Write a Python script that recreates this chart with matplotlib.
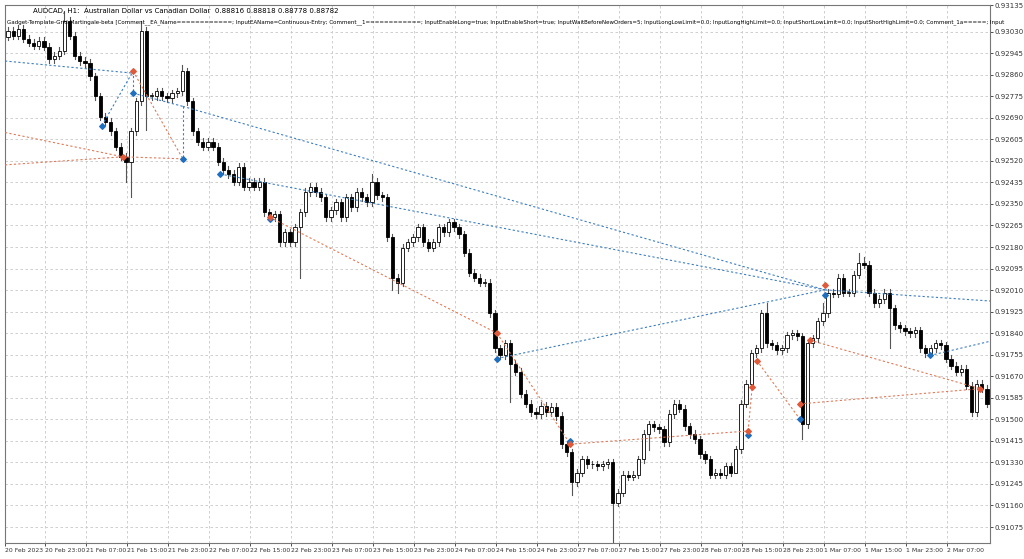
import matplotlib
matplotlib.use("Agg")
import matplotlib.pyplot as plt
import numpy as np

closes = [0.93034,0.93014,0.93042,0.93002,0.92986,0.92974,0.92994,0.92970,0.92922,0.92934,
0.92954,0.93073,0.93014,0.92934,0.92914,0.92906,0.92854,0.92775,0.92695,0.92675,
0.92636,0.92576,0.92536,0.92516,0.92636,0.92755,0.93034,0.92775,0.92775,0.92795,
0.92775,0.92767,0.92787,0.92795,0.92874,0.92755,0.92636,0.92596,0.92576,0.92596,
0.92576,0.92516,0.92484,0.92468,0.92437,0.92496,0.92417,0.92437,0.92417,0.92437,
0.92317,0.92297,0.92309,0.92198,0.92238,0.92198,0.92257,0.92317,0.92397,0.92417,
0.92397,0.92377,0.92297,0.92325,0.92357,0.92297,0.92377,0.92337,0.92397,0.92377,
0.92357,0.92437,0.92385,0.92377,0.92218,0.92058,0.92039,0.92178,0.92198,0.92218,
0.92257,0.92198,0.92178,0.92198,0.92257,0.92238,0.92277,0.92257,0.92230,0.92158,
0.92078,0.92058,0.92039,0.92039,0.91919,0.91780,0.91752,0.91800,0.91720,0.91688,
0.91601,0.91561,0.91529,0.91521,0.91553,0.91529,0.91549,0.91513,0.91402,0.91370,
0.91251,0.91290,0.91342,0.91322,0.91322,0.91314,0.91322,0.91330,0.91171,0.91211,
0.91282,0.91274,0.91282,0.91342,0.91442,0.91481,0.91469,0.91461,0.91410,0.91521,
0.91561,0.91541,0.91473,0.91442,0.91422,0.91362,0.91342,0.91282,0.91290,0.91282,
0.91314,0.91290,0.91382,0.91561,0.91641,0.91760,0.91780,0.91919,0.91800,0.91792,
0.91772,0.91780,0.91832,0.91840,0.91828,0.91481,0.91800,0.91820,0.91887,0.91919,
0.91999,0.91995,0.92058,0.91999,0.91999,0.92070,0.92118,0.92110,0.91999,0.91959,
0.91975,0.91999,0.91939,0.91871,0.91859,0.91848,0.91840,0.91852,0.91780,0.91760,
0.91780,0.91800,0.91792,0.91740,0.91712,0.91688,0.91700,0.91633,0.91529,0.91641,
0.91621,0.91561]
first_open = 0.93010
typical_wick = 0.00014
long_highs = {11: 0.93113, 26: 0.93070, 34: 0.92900, 71: 0.92470, 148: 0.91960, 166: 0.92158, 167: 0.92140, 159: 0.91960}
long_lows = {23: 0.92437, 24: 0.92377, 27: 0.92640, 57: 0.92057, 75: 0.92010, 76: 0.92000, 98: 0.91570,
             118: 0.91004, 155: 0.91422, 110: 0.91200, 125: 0.91380, 142: 0.91350, 172: 0.91780}

yticks = [0.93030 - 0.00085 * k for k in range(24)]
xlabels = ["20 Feb 2023","20 Feb 23:00","21 Feb 07:00","21 Feb 15:00","21 Feb 23:00","22 Feb 07:00",
"22 Feb 15:00","22 Feb 23:00","23 Feb 07:00","23 Feb 15:00","23 Feb 23:00","24 Feb 07:00",
"24 Feb 15:00","24 Feb 23:00","27 Feb 07:00","27 Feb 15:00","27 Feb 23:00","28 Feb 07:00",
"28 Feb 15:00","28 Feb 23:00","1 Mar 07:00","1 Mar 15:00","1 Mar 23:00","2 Mar 07:00"]

blue_lines = [((-0.6,0.92914),(24.4,0.92866)), ((18.3,0.92659),(24.4,0.92874)), ((24.4,0.92874),(24.4,0.92787)),
              ((24.4,0.92787),(34.1,0.92735)), ((34.1,0.92735),(34.1,0.92528)),
              ((34.1,0.92735),(159.4,0.92011)), ((41.4,0.92468),(159.4,0.92011)),
              ((95.4,0.91740),(159.4,0.92011)), ((159.4,0.92011),(191.6,0.91967)),
              ((179.9,0.91752),(191.6,0.91808))]
red_lines = [((-0.6,0.92632),(22.4,0.92536)), ((-0.6,0.92504),(22.4,0.92536)), ((22.4,0.92536),(34.1,0.92528)),
             ((24.4,0.92874),(34.1,0.92528)), ((51.1,0.92297),(95.4,0.91840)), ((95.4,0.91840),(109.7,0.91402)),
             ((109.7,0.91402),(144.4,0.91454)), ((144.4,0.91454),(145.2,0.91629)), ((146.1,0.91732),(154.5,0.91501)),
             ((154.5,0.91561),(189.7,0.91621)), ((156.5,0.91812),(189.7,0.91621))]
blue_pts = [(18.3,0.92659),(24.4,0.92787),(34.1,0.92528),(41.4,0.92468),(95.4,0.91740),(144.4,0.91440),
            (154.5,0.91501),(159.4,0.91990),(179.9,0.91752),(51.1,0.92290),(109.7,0.91415)]
red_pts = [(24.4,0.92874),(22.4,0.92536),(51.1,0.92297),(95.4,0.91840),(109.7,0.91402),(144.4,0.91454),
           (145.2,0.91629),(146.1,0.91732),(154.5,0.91561),(156.5,0.91812),(159.4,0.92030),(189.7,0.91621)]

fig = plt.figure(figsize=(10.24, 5.59), dpi=100)
ax = fig.add_axes([5/1024, 16/559, 985/1024, 538/559])
n = len(closes)
opens = [first_open] + closes[:-1]
for i in range(n):
    o, c = opens[i], closes[i]
    hi = long_highs.get(i, max(o, c) + typical_wick)
    lo = long_lows.get(i, min(o, c) - typical_wick)
    ax.plot([i, i], [lo, hi], color='#555555', lw=0.8, zorder=2)
    bull = c >= o
    h = abs(c - o) if abs(c - o) > 0.00003 else 0.00003
    ax.add_patch(plt.Rectangle((i - 0.32, min(o, c)), 0.64, h, facecolor='white' if bull else 'black',
                               edgecolor='black', lw=0.6, zorder=3))
for (a, b) in blue_lines:
    ax.plot([a[0], b[0]], [a[1], b[1]], color='#3f7fbf', lw=0.8, ls=(0, (2, 2)), zorder=4)
for (a, b) in red_lines:
    ax.plot([a[0], b[0]], [a[1], b[1]], color='#e07a5a', lw=0.8, ls=(0, (2, 2)), zorder=4)
ax.scatter(*zip(*blue_pts), s=8, color='#1f6fbf', marker='D', zorder=5)
ax.scatter(*zip(*red_pts), s=8, color='#e05a3a', marker='D', zorder=5)

ax.set_xlim(-0.6, 191.6)
ax.set_ylim(0.91012, 0.93133)
xt = [-0.6] + [7.2 + 8 * k for k in range(23)]
ax.set_xticks(xt)
ax.set_xticklabels(xlabels, fontsize=4.4, ha='left')
ax.set_yticks(yticks + [0.93135])
ax.set_yticklabels([f"{v:.5f}" for v in yticks] + ["0.93135"], fontsize=5)
ax.yaxis.tick_right()
ax.tick_params(axis='both', length=2, width=0.6, pad=1.5, colors='#333333')
ax.grid(True, color='#c8c8c8', ls=(0, (3, 3)), lw=0.6)
ax.set_axisbelow(True)
for s in ax.spines.values():
    s.set_color('#777777'); s.set_linewidth(0.8)
fig.text(33/1024, 1 - 11/559, "AUDCAD, H1:  Australian Dollar vs Canadian Dollar  0.88816 0.88818 0.88778 0.88782",
         fontsize=5, va='center', color='black')
fig.text(7/1024, 1 - 22/559, "Gadget-Template-Grid-Martingale-beta [Comment__EA_Name============; InputEAName=Continuous-Entry; "
         "Comment__1============; InputEnableLong=true; InputEnableShort=true; InputWaitBeforeNewOrders=5; "
         "InputLongLowLimit=0.0; InputLongHighLimit=0.0; InputShortLowLimit=0.0; InputShortHighLimit=0.0; Comment_1a=====; Input",
         fontsize=3.95, va='center', color='black')
fig.savefig("out.png", dpi=100)
